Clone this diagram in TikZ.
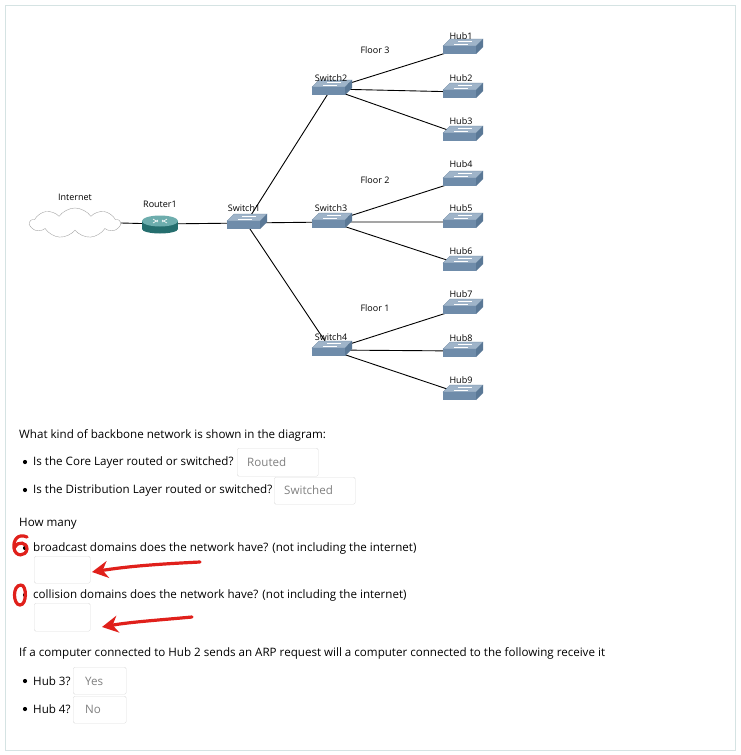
\documentclass[tikz,border=0pt]{standalone}
\usepackage{fontspec}
\setmainfont{Open Sans}
\usetikzlibrary{shapes.symbols,arrows.meta}
\definecolor{swtop}{HTML}{9FB4C9}
\definecolor{swfront}{HTML}{6F8CAA}
\definecolor{swside}{HTML}{5A7896}
\definecolor{rt}{HTML}{2E8A8A}
\definecolor{frame}{HTML}{D5E3E3}
\definecolor{boxc}{HTML}{DDDDDD}
\definecolor{red1}{HTML}{E0201B}
\begin{document}
\begin{tikzpicture}[x=1pt,y=-1pt,
  lbl/.style={font=\fontsize{9}{10}\selectfont},
  txt/.style={font=\fontsize{11.6}{13}\selectfont,anchor=west,inner sep=0},
  ans/.style={draw=boxc,rounded corners=1.5,anchor=north west,inner sep=0},
  anst/.style={font=\fontsize{11.6}{13}\selectfont,text=gray,anchor=west,inner sep=0},
  dev/.style={inner sep=0,minimum width=36,minimum height=14},
  wire/.style={line width=0.9pt},
  redp/.style={red1,line width=3.2pt,line cap=round},
  sw/.pic={
    \fill[swtop,draw=swside,line width=0.3pt] (-19,-2)--(-12,-9)--(21,-9)--(14,-2)--cycle;
    \fill[swfront] (-19,-2) rectangle (14,6);
    \fill[swside] (14,-2)--(21,-9)--(21,-1)--(14,6)--cycle;
    \draw[white,line width=0.5pt] (-8,-4)--(6,-4) (-4,-6.5)--(10,-6.5);
  },
  router/.pic={
    \fill[rt!80!black] (-18,-3) rectangle (18,5);
    \fill[rt!80!black] (0,5) ellipse (18 and 4.5);
    \fill[rt!70!white] (0,-3) ellipse (18 and 5.5);
    \draw[white,line width=0.6pt] (-7,-5)--(-2,-2) (2,-4)--(7,-1) (-7,-1)--(-2,-4) (2,-2)--(7,-5);
  }]
\useasboundingbox (0,0) rectangle (740,755);
\fill[white] (0,0) rectangle (740,755);
\draw[frame] (5,5) rectangle (735,750);
% device nodes
\node[cloud,draw=gray!70,fill=white,cloud puffs=9,cloud puff arc=110,aspect=3.2,minimum width=90,minimum height=30,inner sep=0] (inet) at (75,223) {};
\node[dev] (r1) at (160,224) {};
\node[dev] (s1) at (246,223) {};
\node[dev] (s2) at (331,89) {};
\node[dev] (s3) at (331,222) {};
\node[dev] (s4) at (331,350) {};
\foreach \i/\y in {1/48,2/92,3/135,4/180,5/222,6/265,7/308,8/351,9/394}
  \node[dev] (h\i) at (462,\y) {};
% wires
\draw[wire] (inet.east)--(r1.center) (r1.center)--(s1.center);
\draw[wire] (s1.center)--(s2.center) (s1.center)--(s3.center) (s1.center)--(s4.center);
\draw[wire] (s2.center)--(h1.center) (s2.center)--(h2.center) (s2.center)--(h3.center);
\draw[wire] (s3.center)--(h4.center) (s3.center)--(h5.center) (s3.center)--(h6.center);
\draw[wire] (s4.center)--(h7.center) (s4.center)--(h8.center) (s4.center)--(h9.center);
% icons
\pic at (160,224) {router};
\foreach \p in {(246,223),(331,89),(331,222),(331,350)} \pic at \p {sw};
\foreach \y in {48,92,135,180,222,265,308,351,394} \pic at (462,\y) {sw};
% labels
\node[lbl] (linet) at (75,197) {Internet};
\node[lbl] (lr1) at (160,204) {Router1};
\node[lbl] (ls1) at (244,208) {Switch1};
\node[lbl] (ls2) at (331,78) {Switch2};
\node[lbl] (ls3) at (331,208) {Switch3};
\node[lbl] (ls4) at (331,337) {Switch4};
\foreach \i/\y in {1/36,2/78,3/121,4/164,5/208,6/251,7/294,8/338,9/380}
  \node[lbl] (lh\i) at (461,\y) {Hub\i};
\node[lbl] (f3) at (375,50) {Floor 3};
\node[lbl] (f2) at (375,180) {Floor 2};
\node[lbl] (f1) at (375,308) {Floor 1};
% text
\node[txt] (t1) at (19,435) {What kind of backbone network is shown in the diagram:};
\node[txt] (t2) at (33,462) {Is the Core Layer routed or switched?};
\node[ans,minimum width=81,minimum height=28] (a1) at (237,448) {};
\node[anst] (v1) at (247,462) {Routed};
\node[txt] (t3) at (33,490) {Is the Distribution Layer routed or switched?};
\node[ans,minimum width=81,minimum height=27] (a2) at (274,477) {};
\node[anst] (v2) at (284,490) {Switched};
\node[txt] (t4) at (19,524) {How many};
\node[txt] (t5) at (33,548) {broadcast domains does the network have? (not including the internet)};
\node[ans,minimum width=56,minimum height=27] (a3) at (34,556) {};
\node[txt] (t6) at (33,595) {collision domains does the network have? (not including the internet)};
\node[ans,minimum width=56,minimum height=28] (a4) at (34,603) {};
\node[txt] (t7) at (19,653) {If a computer connected to Hub 2 sends an ARP request will a computer connected to the following receive it};
\node[txt] (t8) at (33,681) {Hub 3?};
\node[ans,minimum width=53,minimum height=27] (a5) at (73,667) {};
\node[anst] (v5) at (85,681) {Yes};
\node[txt] (t9) at (33,709) {Hub 4?};
\node[ans,minimum width=53,minimum height=27] (a6) at (73,696) {};
\node[anst] (v6) at (85,709) {No};
\foreach \y in {462,490,548,595,681,709} \fill (25,\y) circle (2.1);
% red annotations
\draw[redp] (27,537) .. controls (18,533) and (13,540) .. (14,548) .. controls (15,557) and (26,557) .. (27,549) .. controls (27,542) and (18,541) .. (15,547);
\draw[redp] (21,585) .. controls (12,585) and (13,605) .. (20,605) .. controls (27,605) and (27,585) .. (21,585);
\coordinate (e1) at (200,562);
\coordinate (e2) at (192,617);
\draw[redp,-{Stealth[length=16pt,width=17pt]}] (e1) .. controls (160,564) and (130,566) .. (92,572);
\draw[redp,-{Stealth[length=16pt,width=17pt]}] (e2) .. controls (160,620) and (130,622) .. (102,627);
\end{tikzpicture}
\end{document}
